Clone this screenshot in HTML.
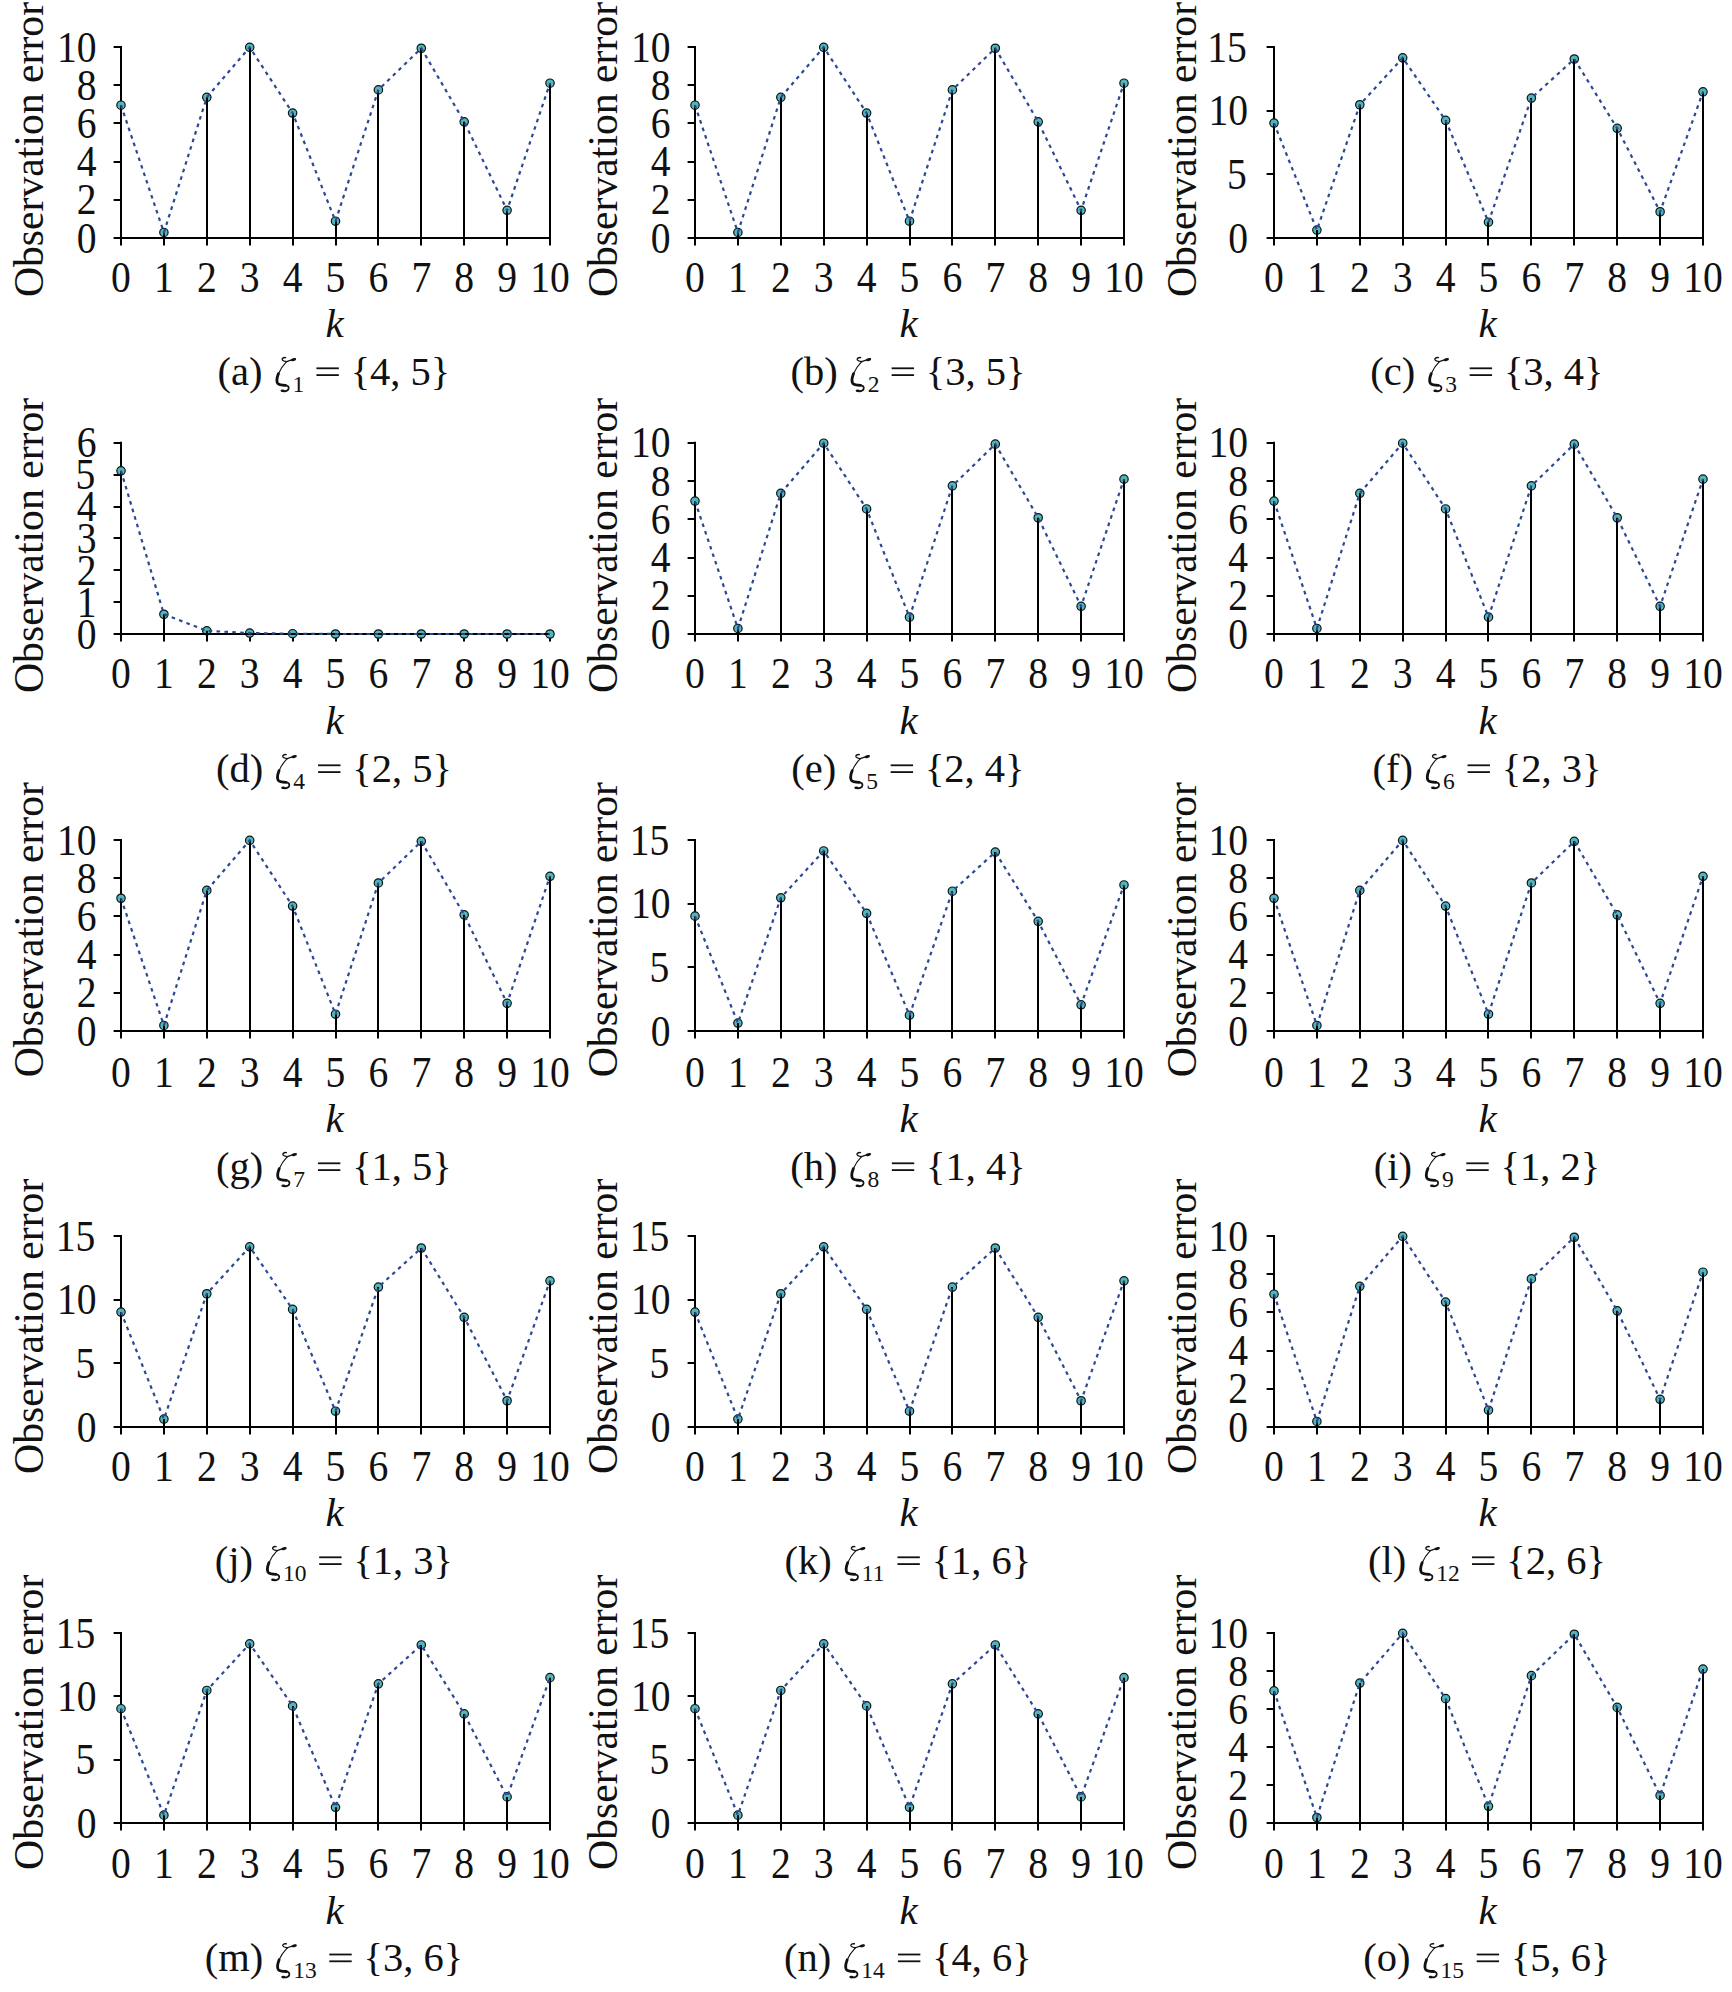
<!DOCTYPE html>
<html><head><meta charset="utf-8"><title>Observation error</title>
<style>
html,body{margin:0;padding:0;background:#fff;}
body{width:1732px;height:1992px;overflow:hidden;}
svg{display:block;}
text{font-family:"Liberation Serif",serif;fill:#111;}
.t{font-size:44.0px;}
.yl{font-size:41.7px;}
.k{font-size:41.0px;font-style:italic;}
.c{font-size:40.5px;}
.z{font-size:38.5px;font-style:italic;}
.s{font-size:23.5px;}
rect{fill:#111;}
</style></head><body>
<svg width="1732" height="1992" viewBox="0 0 1732 1992">
<defs><g id="zeta" fill="none" stroke="#111" stroke-linecap="round">
<path d="M11.3 -23.4C8 -20 4.6 -15 2.9 -10.8" stroke-width="1.15"/>
<path d="M3.2 -11.4C1.7 -7.5 1.0 -3.8 2.3 -1.7C3.6 0.1 6.6 0.3 10.2 0.3" stroke-width="2.8"/>
<path d="M10.2 0.3C12.8 0.4 13.7 2.0 13.3 3.7C12.7 5.6 10.2 6.5 7.3 6.1" stroke-width="1.8"/>
<ellipse cx="7.3" cy="5.8" rx="2.0" ry="1.3" fill="#111" stroke="none"/>
<path d="M10.3 -27.4C8 -27.8 6.3 -26.5 7.0 -25.2C7.6 -24.2 9.8 -23.6 11.3 -23.4" stroke-width="1.4"/>
<path d="M11.3 -23.4C14 -24.4 17 -25.5 20 -26.1" stroke-width="1.2"/>
<ellipse cx="18.2" cy="-25.4" rx="2.7" ry="1.4" transform="rotate(-14 18.2 -25.4)" fill="#111" stroke="none"/>
</g></defs>
<rect x="0" y="0" width="1732" height="1992" fill="#fff" style="fill:#fff"/>
<g><path d="M113.6 238H551 M121 245.4V45.9M113.6 238H121M113.6 200H121M113.6 162H121M113.6 123H121M113.6 85H121M113.6 47H121M121 238V245.4M164 238V245.4M207 238V245.4M250 238V245.4M293 238V245.4M336 238V245.4M378 238V245.4M421 238V245.4M464 238V245.4M507 238V245.4M550 238V245.4" stroke="#000" stroke-width="2.0" fill="none"/><circle cx="121" cy="105.19" r="4.2" fill="#52b5b8" stroke="#061616" stroke-width="1.2"/><circle cx="163.9" cy="232.46" r="4.2" fill="#52b5b8" stroke="#061616" stroke-width="1.2"/><circle cx="206.8" cy="97.35" r="4.2" fill="#52b5b8" stroke="#061616" stroke-width="1.2"/><circle cx="249.7" cy="47.28" r="4.2" fill="#52b5b8" stroke="#061616" stroke-width="1.2"/><circle cx="292.6" cy="113.02" r="4.2" fill="#52b5b8" stroke="#061616" stroke-width="1.2"/><circle cx="335.5" cy="221.18" r="4.2" fill="#52b5b8" stroke="#061616" stroke-width="1.2"/><circle cx="378.4" cy="89.9" r="4.2" fill="#52b5b8" stroke="#061616" stroke-width="1.2"/><circle cx="421.3" cy="48.24" r="4.2" fill="#52b5b8" stroke="#061616" stroke-width="1.2"/><circle cx="464.2" cy="121.81" r="4.2" fill="#52b5b8" stroke="#061616" stroke-width="1.2"/><circle cx="507.1" cy="210.29" r="4.2" fill="#52b5b8" stroke="#061616" stroke-width="1.2"/><circle cx="550" cy="83.21" r="4.2" fill="#52b5b8" stroke="#061616" stroke-width="1.2"/><path d="M121 238V105.19M164 238V232.46M207 238V97.35M250 238V47.28M293 238V113.02M336 238V221.18M378 238V89.9M421 238V48.24M464 238V121.81M507 238V210.29M550 238V83.21M121 238H550" stroke="#000" stroke-width="2.0" fill="none"/><polyline points="121,105.19 163.9,232.46 206.8,97.35 249.7,47.28 292.6,113.02 335.5,221.18 378.4,89.9 421.3,48.24 464.2,121.81 507.1,210.29 550,83.21" fill="none" stroke="#2b4894" stroke-width="2.2" stroke-dasharray="3.6 4.3"/><text transform="translate(96.5 252.6) scale(0.9 1)" text-anchor="end" class="t">0</text><text transform="translate(96.5 214.38) scale(0.9 1)" text-anchor="end" class="t">2</text><text transform="translate(96.5 176.16) scale(0.9 1)" text-anchor="end" class="t">4</text><text transform="translate(96.5 137.94) scale(0.9 1)" text-anchor="end" class="t">6</text><text transform="translate(96.5 99.72) scale(0.9 1)" text-anchor="end" class="t">8</text><text transform="translate(96.5 61.5) scale(0.9 1)" text-anchor="end" class="t">10</text><text transform="translate(121 292.1) scale(0.9 1)" text-anchor="middle" class="t">0</text><text transform="translate(163.9 292.1) scale(0.9 1)" text-anchor="middle" class="t">1</text><text transform="translate(206.8 292.1) scale(0.9 1)" text-anchor="middle" class="t">2</text><text transform="translate(249.7 292.1) scale(0.9 1)" text-anchor="middle" class="t">3</text><text transform="translate(292.6 292.1) scale(0.9 1)" text-anchor="middle" class="t">4</text><text transform="translate(335.5 292.1) scale(0.9 1)" text-anchor="middle" class="t">5</text><text transform="translate(378.4 292.1) scale(0.9 1)" text-anchor="middle" class="t">6</text><text transform="translate(421.3 292.1) scale(0.9 1)" text-anchor="middle" class="t">7</text><text transform="translate(464.2 292.1) scale(0.9 1)" text-anchor="middle" class="t">8</text><text transform="translate(507.1 292.1) scale(0.9 1)" text-anchor="middle" class="t">9</text><text transform="translate(550 292.1) scale(0.9 1)" text-anchor="middle" class="t">10</text><text x="334.6" y="337.3" text-anchor="middle" class="k">k</text><text transform="translate(43.4 149.5) rotate(-90)" text-anchor="middle" class="yl">Observation error</text><text x="217.62" y="385" class="c">(a)</text><use href="#zeta" transform="translate(275.29 385)"/><text x="292.59" y="392.1" class="s">1</text><rect x="316.43" y="367.4" width="22.4" height="1.8"/><rect x="316.43" y="374.2" width="22.4" height="1.8"/><text x="350.65" y="385" class="c">{4, 5}</text></g>
<g><path d="M687.6 238H1125 M695 245.4V45.9M687.6 238H695M687.6 200H695M687.6 162H695M687.6 123H695M687.6 85H695M687.6 47H695M695 238V245.4M738 238V245.4M781 238V245.4M824 238V245.4M867 238V245.4M910 238V245.4M952 238V245.4M995 238V245.4M1038 238V245.4M1081 238V245.4M1124 238V245.4" stroke="#000" stroke-width="2.0" fill="none"/><circle cx="695" cy="105.19" r="4.2" fill="#52b5b8" stroke="#061616" stroke-width="1.2"/><circle cx="737.9" cy="232.46" r="4.2" fill="#52b5b8" stroke="#061616" stroke-width="1.2"/><circle cx="780.8" cy="97.35" r="4.2" fill="#52b5b8" stroke="#061616" stroke-width="1.2"/><circle cx="823.7" cy="47.28" r="4.2" fill="#52b5b8" stroke="#061616" stroke-width="1.2"/><circle cx="866.6" cy="113.02" r="4.2" fill="#52b5b8" stroke="#061616" stroke-width="1.2"/><circle cx="909.5" cy="221.18" r="4.2" fill="#52b5b8" stroke="#061616" stroke-width="1.2"/><circle cx="952.4" cy="89.9" r="4.2" fill="#52b5b8" stroke="#061616" stroke-width="1.2"/><circle cx="995.3" cy="48.24" r="4.2" fill="#52b5b8" stroke="#061616" stroke-width="1.2"/><circle cx="1038.2" cy="121.81" r="4.2" fill="#52b5b8" stroke="#061616" stroke-width="1.2"/><circle cx="1081.1" cy="210.29" r="4.2" fill="#52b5b8" stroke="#061616" stroke-width="1.2"/><circle cx="1124" cy="83.21" r="4.2" fill="#52b5b8" stroke="#061616" stroke-width="1.2"/><path d="M695 238V105.19M738 238V232.46M781 238V97.35M824 238V47.28M867 238V113.02M910 238V221.18M952 238V89.9M995 238V48.24M1038 238V121.81M1081 238V210.29M1124 238V83.21M695 238H1124" stroke="#000" stroke-width="2.0" fill="none"/><polyline points="695,105.19 737.9,232.46 780.8,97.35 823.7,47.28 866.6,113.02 909.5,221.18 952.4,89.9 995.3,48.24 1038.2,121.81 1081.1,210.29 1124,83.21" fill="none" stroke="#2b4894" stroke-width="2.2" stroke-dasharray="3.6 4.3"/><text transform="translate(670.5 252.6) scale(0.9 1)" text-anchor="end" class="t">0</text><text transform="translate(670.5 214.38) scale(0.9 1)" text-anchor="end" class="t">2</text><text transform="translate(670.5 176.16) scale(0.9 1)" text-anchor="end" class="t">4</text><text transform="translate(670.5 137.94) scale(0.9 1)" text-anchor="end" class="t">6</text><text transform="translate(670.5 99.72) scale(0.9 1)" text-anchor="end" class="t">8</text><text transform="translate(670.5 61.5) scale(0.9 1)" text-anchor="end" class="t">10</text><text transform="translate(695 292.1) scale(0.9 1)" text-anchor="middle" class="t">0</text><text transform="translate(737.9 292.1) scale(0.9 1)" text-anchor="middle" class="t">1</text><text transform="translate(780.8 292.1) scale(0.9 1)" text-anchor="middle" class="t">2</text><text transform="translate(823.7 292.1) scale(0.9 1)" text-anchor="middle" class="t">3</text><text transform="translate(866.6 292.1) scale(0.9 1)" text-anchor="middle" class="t">4</text><text transform="translate(909.5 292.1) scale(0.9 1)" text-anchor="middle" class="t">5</text><text transform="translate(952.4 292.1) scale(0.9 1)" text-anchor="middle" class="t">6</text><text transform="translate(995.3 292.1) scale(0.9 1)" text-anchor="middle" class="t">7</text><text transform="translate(1038.2 292.1) scale(0.9 1)" text-anchor="middle" class="t">8</text><text transform="translate(1081.1 292.1) scale(0.9 1)" text-anchor="middle" class="t">9</text><text transform="translate(1124 292.1) scale(0.9 1)" text-anchor="middle" class="t">10</text><text x="908.6" y="337.3" text-anchor="middle" class="k">k</text><text transform="translate(617.4 149.5) rotate(-90)" text-anchor="middle" class="yl">Observation error</text><text x="790.43" y="385" class="c">(b)</text><use href="#zeta" transform="translate(850.37 385)"/><text x="867.67" y="392.1" class="s">2</text><rect x="891.62" y="367.4" width="22.4" height="1.8"/><rect x="891.62" y="374.2" width="22.4" height="1.8"/><text x="925.84" y="385" class="c">{3, 5}</text></g>
<g><path d="M1266.6 238H1704 M1274 245.4V45.9M1266.6 238H1274M1266.6 174H1274M1266.6 111H1274M1266.6 47H1274M1274 238V245.4M1317 238V245.4M1360 238V245.4M1403 238V245.4M1446 238V245.4M1488 238V245.4M1531 238V245.4M1574 238V245.4M1617 238V245.4M1660 238V245.4M1703 238V245.4" stroke="#000" stroke-width="2.0" fill="none"/><circle cx="1274" cy="123.09" r="4.2" fill="#52b5b8" stroke="#061616" stroke-width="1.2"/><circle cx="1316.9" cy="230.1" r="4.2" fill="#52b5b8" stroke="#061616" stroke-width="1.2"/><circle cx="1359.8" cy="104.74" r="4.2" fill="#52b5b8" stroke="#061616" stroke-width="1.2"/><circle cx="1402.7" cy="57.86" r="4.2" fill="#52b5b8" stroke="#061616" stroke-width="1.2"/><circle cx="1445.6" cy="120.28" r="4.2" fill="#52b5b8" stroke="#061616" stroke-width="1.2"/><circle cx="1488.5" cy="222.2" r="4.2" fill="#52b5b8" stroke="#061616" stroke-width="1.2"/><circle cx="1531.4" cy="98.11" r="4.2" fill="#52b5b8" stroke="#061616" stroke-width="1.2"/><circle cx="1574.3" cy="59" r="4.2" fill="#52b5b8" stroke="#061616" stroke-width="1.2"/><circle cx="1617.2" cy="128.31" r="4.2" fill="#52b5b8" stroke="#061616" stroke-width="1.2"/><circle cx="1660.1" cy="211.76" r="4.2" fill="#52b5b8" stroke="#061616" stroke-width="1.2"/><circle cx="1703" cy="91.87" r="4.2" fill="#52b5b8" stroke="#061616" stroke-width="1.2"/><path d="M1274 238V123.09M1317 238V230.1M1360 238V104.74M1403 238V57.86M1446 238V120.28M1488 238V222.2M1531 238V98.11M1574 238V59M1617 238V128.31M1660 238V211.76M1703 238V91.87M1274 238H1703" stroke="#000" stroke-width="2.0" fill="none"/><polyline points="1274,123.09 1316.9,230.1 1359.8,104.74 1402.7,57.86 1445.6,120.28 1488.5,222.2 1531.4,98.11 1574.3,59 1617.2,128.31 1660.1,211.76 1703,91.87" fill="none" stroke="#2b4894" stroke-width="2.2" stroke-dasharray="3.6 4.3"/><text transform="translate(1248.1 252.6) scale(0.9 1)" text-anchor="end" class="t">0</text><text transform="translate(1246.9 188.9) scale(0.9 1)" text-anchor="end" class="t">5</text><text transform="translate(1248.1 125.2) scale(0.9 1)" text-anchor="end" class="t">10</text><text transform="translate(1246.9 61.5) scale(0.9 1)" text-anchor="end" class="t">15</text><text transform="translate(1274 292.1) scale(0.9 1)" text-anchor="middle" class="t">0</text><text transform="translate(1316.9 292.1) scale(0.9 1)" text-anchor="middle" class="t">1</text><text transform="translate(1359.8 292.1) scale(0.9 1)" text-anchor="middle" class="t">2</text><text transform="translate(1402.7 292.1) scale(0.9 1)" text-anchor="middle" class="t">3</text><text transform="translate(1445.6 292.1) scale(0.9 1)" text-anchor="middle" class="t">4</text><text transform="translate(1488.5 292.1) scale(0.9 1)" text-anchor="middle" class="t">5</text><text transform="translate(1531.4 292.1) scale(0.9 1)" text-anchor="middle" class="t">6</text><text transform="translate(1574.3 292.1) scale(0.9 1)" text-anchor="middle" class="t">7</text><text transform="translate(1617.2 292.1) scale(0.9 1)" text-anchor="middle" class="t">8</text><text transform="translate(1660.1 292.1) scale(0.9 1)" text-anchor="middle" class="t">9</text><text transform="translate(1703 292.1) scale(0.9 1)" text-anchor="middle" class="t">10</text><text x="1487.6" y="337.3" text-anchor="middle" class="k">k</text><text transform="translate(1196.4 149.5) rotate(-90)" text-anchor="middle" class="yl">Observation error</text><text x="1370.37" y="385" class="c">(c)</text><use href="#zeta" transform="translate(1428.04 385)"/><text x="1445.34" y="392.1" class="s">3</text><rect x="1469.67" y="367.4" width="22.4" height="1.8"/><rect x="1469.67" y="374.2" width="22.4" height="1.8"/><text x="1503.9" y="385" class="c">{3, 4}</text></g>
<g><path d="M113.6 634H551 M121 641.4V441.8M113.6 634H121M113.6 602H121M113.6 570H121M113.6 538H121M113.6 507H121M113.6 475H121M113.6 443H121M121 634V641.4M164 634V641.4M207 634V641.4M250 634V641.4M293 634V641.4M336 634V641.4M378 634V641.4M421 634V641.4M464 634V641.4M507 634V641.4M550 634V641.4" stroke="#000" stroke-width="2.0" fill="none"/><circle cx="121" cy="470.84" r="4.2" fill="#52b5b8" stroke="#061616" stroke-width="1.2"/><circle cx="163.9" cy="614.24" r="4.2" fill="#52b5b8" stroke="#061616" stroke-width="1.2"/><circle cx="206.8" cy="630.81" r="4.2" fill="#52b5b8" stroke="#061616" stroke-width="1.2"/><circle cx="249.7" cy="633.04" r="4.2" fill="#52b5b8" stroke="#061616" stroke-width="1.2"/><circle cx="292.6" cy="633.68" r="4.2" fill="#52b5b8" stroke="#061616" stroke-width="1.2"/><circle cx="335.5" cy="634" r="4.2" fill="#52b5b8" stroke="#061616" stroke-width="1.2"/><circle cx="378.4" cy="634" r="4.2" fill="#52b5b8" stroke="#061616" stroke-width="1.2"/><circle cx="421.3" cy="634" r="4.2" fill="#52b5b8" stroke="#061616" stroke-width="1.2"/><circle cx="464.2" cy="634" r="4.2" fill="#52b5b8" stroke="#061616" stroke-width="1.2"/><circle cx="507.1" cy="634" r="4.2" fill="#52b5b8" stroke="#061616" stroke-width="1.2"/><circle cx="550" cy="634" r="4.2" fill="#52b5b8" stroke="#061616" stroke-width="1.2"/><path d="M121 634V470.84M164 634V614.24M207 634V630.81M250 634V633.04M293 634V633.68M336 634V634M378 634V634M421 634V634M464 634V634M507 634V634M550 634V634M121 634H550" stroke="#000" stroke-width="2.0" fill="none"/><polyline points="121,470.84 163.9,614.24 206.8,630.81 249.7,633.04 292.6,633.68 335.5,634 378.4,634 421.3,634 464.2,634 507.1,634 550,634" fill="none" stroke="#2b4894" stroke-width="2.2" stroke-dasharray="3.6 4.3"/><text transform="translate(96.5 648.6) scale(0.9 1)" text-anchor="end" class="t">0</text><text transform="translate(96.5 616.73) scale(0.9 1)" text-anchor="end" class="t">1</text><text transform="translate(96.5 584.87) scale(0.9 1)" text-anchor="end" class="t">2</text><text transform="translate(96.5 553) scale(0.9 1)" text-anchor="end" class="t">3</text><text transform="translate(96.5 521.13) scale(0.9 1)" text-anchor="end" class="t">4</text><text transform="translate(95.3 489.27) scale(0.9 1)" text-anchor="end" class="t">5</text><text transform="translate(96.5 457.4) scale(0.9 1)" text-anchor="end" class="t">6</text><text transform="translate(121 688.3) scale(0.9 1)" text-anchor="middle" class="t">0</text><text transform="translate(163.9 688.3) scale(0.9 1)" text-anchor="middle" class="t">1</text><text transform="translate(206.8 688.3) scale(0.9 1)" text-anchor="middle" class="t">2</text><text transform="translate(249.7 688.3) scale(0.9 1)" text-anchor="middle" class="t">3</text><text transform="translate(292.6 688.3) scale(0.9 1)" text-anchor="middle" class="t">4</text><text transform="translate(335.5 688.3) scale(0.9 1)" text-anchor="middle" class="t">5</text><text transform="translate(378.4 688.3) scale(0.9 1)" text-anchor="middle" class="t">6</text><text transform="translate(421.3 688.3) scale(0.9 1)" text-anchor="middle" class="t">7</text><text transform="translate(464.2 688.3) scale(0.9 1)" text-anchor="middle" class="t">8</text><text transform="translate(507.1 688.3) scale(0.9 1)" text-anchor="middle" class="t">9</text><text transform="translate(550 688.3) scale(0.9 1)" text-anchor="middle" class="t">10</text><text x="334.6" y="734.3" text-anchor="middle" class="k">k</text><text transform="translate(43.4 545.45) rotate(-90)" text-anchor="middle" class="yl">Observation error</text><text x="215.96" y="782" class="c">(d)</text><use href="#zeta" transform="translate(275.9 782)"/><text x="293.2" y="789.1" class="s">4</text><rect x="318.09" y="764.4" width="22.4" height="1.8"/><rect x="318.09" y="771.2" width="22.4" height="1.8"/><text x="352.31" y="782" class="c">{2, 5}</text></g>
<g><path d="M687.6 634H1125 M695 641.4V441.8M687.6 634H695M687.6 596H695M687.6 558H695M687.6 519H695M687.6 481H695M687.6 443H695M695 634V641.4M738 634V641.4M781 634V641.4M824 634V641.4M867 634V641.4M910 634V641.4M952 634V641.4M995 634V641.4M1038 634V641.4M1081 634V641.4M1124 634V641.4" stroke="#000" stroke-width="2.0" fill="none"/><circle cx="695" cy="501.12" r="4.2" fill="#52b5b8" stroke="#061616" stroke-width="1.2"/><circle cx="737.9" cy="628.46" r="4.2" fill="#52b5b8" stroke="#061616" stroke-width="1.2"/><circle cx="780.8" cy="493.28" r="4.2" fill="#52b5b8" stroke="#061616" stroke-width="1.2"/><circle cx="823.7" cy="443.18" r="4.2" fill="#52b5b8" stroke="#061616" stroke-width="1.2"/><circle cx="866.6" cy="508.96" r="4.2" fill="#52b5b8" stroke="#061616" stroke-width="1.2"/><circle cx="909.5" cy="617.17" r="4.2" fill="#52b5b8" stroke="#061616" stroke-width="1.2"/><circle cx="952.4" cy="485.82" r="4.2" fill="#52b5b8" stroke="#061616" stroke-width="1.2"/><circle cx="995.3" cy="444.14" r="4.2" fill="#52b5b8" stroke="#061616" stroke-width="1.2"/><circle cx="1038.2" cy="517.75" r="4.2" fill="#52b5b8" stroke="#061616" stroke-width="1.2"/><circle cx="1081.1" cy="606.28" r="4.2" fill="#52b5b8" stroke="#061616" stroke-width="1.2"/><circle cx="1124" cy="479.13" r="4.2" fill="#52b5b8" stroke="#061616" stroke-width="1.2"/><path d="M695 634V501.12M738 634V628.46M781 634V493.28M824 634V443.18M867 634V508.96M910 634V617.17M952 634V485.82M995 634V444.14M1038 634V517.75M1081 634V606.28M1124 634V479.13M695 634H1124" stroke="#000" stroke-width="2.0" fill="none"/><polyline points="695,501.12 737.9,628.46 780.8,493.28 823.7,443.18 866.6,508.96 909.5,617.17 952.4,485.82 995.3,444.14 1038.2,517.75 1081.1,606.28 1124,479.13" fill="none" stroke="#2b4894" stroke-width="2.2" stroke-dasharray="3.6 4.3"/><text transform="translate(670.5 648.6) scale(0.9 1)" text-anchor="end" class="t">0</text><text transform="translate(670.5 610.36) scale(0.9 1)" text-anchor="end" class="t">2</text><text transform="translate(670.5 572.12) scale(0.9 1)" text-anchor="end" class="t">4</text><text transform="translate(670.5 533.88) scale(0.9 1)" text-anchor="end" class="t">6</text><text transform="translate(670.5 495.64) scale(0.9 1)" text-anchor="end" class="t">8</text><text transform="translate(670.5 457.4) scale(0.9 1)" text-anchor="end" class="t">10</text><text transform="translate(695 688.3) scale(0.9 1)" text-anchor="middle" class="t">0</text><text transform="translate(737.9 688.3) scale(0.9 1)" text-anchor="middle" class="t">1</text><text transform="translate(780.8 688.3) scale(0.9 1)" text-anchor="middle" class="t">2</text><text transform="translate(823.7 688.3) scale(0.9 1)" text-anchor="middle" class="t">3</text><text transform="translate(866.6 688.3) scale(0.9 1)" text-anchor="middle" class="t">4</text><text transform="translate(909.5 688.3) scale(0.9 1)" text-anchor="middle" class="t">5</text><text transform="translate(952.4 688.3) scale(0.9 1)" text-anchor="middle" class="t">6</text><text transform="translate(995.3 688.3) scale(0.9 1)" text-anchor="middle" class="t">7</text><text transform="translate(1038.2 688.3) scale(0.9 1)" text-anchor="middle" class="t">8</text><text transform="translate(1081.1 688.3) scale(0.9 1)" text-anchor="middle" class="t">9</text><text transform="translate(1124 688.3) scale(0.9 1)" text-anchor="middle" class="t">10</text><text x="908.6" y="734.3" text-anchor="middle" class="k">k</text><text transform="translate(617.4 545.45) rotate(-90)" text-anchor="middle" class="yl">Observation error</text><text x="791.37" y="782" class="c">(e)</text><use href="#zeta" transform="translate(849.04 782)"/><text x="866.34" y="789.1" class="s">5</text><rect x="890.67" y="764.4" width="22.4" height="1.8"/><rect x="890.67" y="771.2" width="22.4" height="1.8"/><text x="924.9" y="782" class="c">{2, 4}</text></g>
<g><path d="M1266.6 634H1704 M1274 641.4V441.8M1266.6 634H1274M1266.6 596H1274M1266.6 558H1274M1266.6 519H1274M1266.6 481H1274M1266.6 443H1274M1274 634V641.4M1317 634V641.4M1360 634V641.4M1403 634V641.4M1446 634V641.4M1488 634V641.4M1531 634V641.4M1574 634V641.4M1617 634V641.4M1660 634V641.4M1703 634V641.4" stroke="#000" stroke-width="2.0" fill="none"/><circle cx="1274" cy="501.12" r="4.2" fill="#52b5b8" stroke="#061616" stroke-width="1.2"/><circle cx="1316.9" cy="628.46" r="4.2" fill="#52b5b8" stroke="#061616" stroke-width="1.2"/><circle cx="1359.8" cy="493.28" r="4.2" fill="#52b5b8" stroke="#061616" stroke-width="1.2"/><circle cx="1402.7" cy="443.18" r="4.2" fill="#52b5b8" stroke="#061616" stroke-width="1.2"/><circle cx="1445.6" cy="508.96" r="4.2" fill="#52b5b8" stroke="#061616" stroke-width="1.2"/><circle cx="1488.5" cy="617.17" r="4.2" fill="#52b5b8" stroke="#061616" stroke-width="1.2"/><circle cx="1531.4" cy="485.82" r="4.2" fill="#52b5b8" stroke="#061616" stroke-width="1.2"/><circle cx="1574.3" cy="444.14" r="4.2" fill="#52b5b8" stroke="#061616" stroke-width="1.2"/><circle cx="1617.2" cy="517.75" r="4.2" fill="#52b5b8" stroke="#061616" stroke-width="1.2"/><circle cx="1660.1" cy="606.28" r="4.2" fill="#52b5b8" stroke="#061616" stroke-width="1.2"/><circle cx="1703" cy="479.13" r="4.2" fill="#52b5b8" stroke="#061616" stroke-width="1.2"/><path d="M1274 634V501.12M1317 634V628.46M1360 634V493.28M1403 634V443.18M1446 634V508.96M1488 634V617.17M1531 634V485.82M1574 634V444.14M1617 634V517.75M1660 634V606.28M1703 634V479.13M1274 634H1703" stroke="#000" stroke-width="2.0" fill="none"/><polyline points="1274,501.12 1316.9,628.46 1359.8,493.28 1402.7,443.18 1445.6,508.96 1488.5,617.17 1531.4,485.82 1574.3,444.14 1617.2,517.75 1660.1,606.28 1703,479.13" fill="none" stroke="#2b4894" stroke-width="2.2" stroke-dasharray="3.6 4.3"/><text transform="translate(1248.1 648.6) scale(0.9 1)" text-anchor="end" class="t">0</text><text transform="translate(1248.1 610.36) scale(0.9 1)" text-anchor="end" class="t">2</text><text transform="translate(1248.1 572.12) scale(0.9 1)" text-anchor="end" class="t">4</text><text transform="translate(1248.1 533.88) scale(0.9 1)" text-anchor="end" class="t">6</text><text transform="translate(1248.1 495.64) scale(0.9 1)" text-anchor="end" class="t">8</text><text transform="translate(1248.1 457.4) scale(0.9 1)" text-anchor="end" class="t">10</text><text transform="translate(1274 688.3) scale(0.9 1)" text-anchor="middle" class="t">0</text><text transform="translate(1316.9 688.3) scale(0.9 1)" text-anchor="middle" class="t">1</text><text transform="translate(1359.8 688.3) scale(0.9 1)" text-anchor="middle" class="t">2</text><text transform="translate(1402.7 688.3) scale(0.9 1)" text-anchor="middle" class="t">3</text><text transform="translate(1445.6 688.3) scale(0.9 1)" text-anchor="middle" class="t">4</text><text transform="translate(1488.5 688.3) scale(0.9 1)" text-anchor="middle" class="t">5</text><text transform="translate(1531.4 688.3) scale(0.9 1)" text-anchor="middle" class="t">6</text><text transform="translate(1574.3 688.3) scale(0.9 1)" text-anchor="middle" class="t">7</text><text transform="translate(1617.2 688.3) scale(0.9 1)" text-anchor="middle" class="t">8</text><text transform="translate(1660.1 688.3) scale(0.9 1)" text-anchor="middle" class="t">9</text><text transform="translate(1703 688.3) scale(0.9 1)" text-anchor="middle" class="t">10</text><text x="1487.6" y="734.3" text-anchor="middle" class="k">k</text><text transform="translate(1196.4 545.45) rotate(-90)" text-anchor="middle" class="yl">Observation error</text><text x="1372.51" y="782" class="c">(f)</text><use href="#zeta" transform="translate(1425.69 782)"/><text x="1442.99" y="789.1" class="s">6</text><rect x="1467.54" y="764.4" width="22.4" height="1.8"/><rect x="1467.54" y="771.2" width="22.4" height="1.8"/><text x="1501.76" y="782" class="c">{2, 3}</text></g>
<g><path d="M113.6 1031H551 M121 1038.4V839M113.6 1031H121M113.6 993H121M113.6 955H121M113.6 916H121M113.6 878H121M113.6 840H121M121 1031V1038.4M164 1031V1038.4M207 1031V1038.4M250 1031V1038.4M293 1031V1038.4M336 1031V1038.4M378 1031V1038.4M421 1031V1038.4M464 1031V1038.4M507 1031V1038.4M550 1031V1038.4" stroke="#000" stroke-width="2.0" fill="none"/><circle cx="121" cy="898.25" r="4.2" fill="#52b5b8" stroke="#061616" stroke-width="1.2"/><circle cx="163.9" cy="1025.46" r="4.2" fill="#52b5b8" stroke="#061616" stroke-width="1.2"/><circle cx="206.8" cy="890.42" r="4.2" fill="#52b5b8" stroke="#061616" stroke-width="1.2"/><circle cx="249.7" cy="840.38" r="4.2" fill="#52b5b8" stroke="#061616" stroke-width="1.2"/><circle cx="292.6" cy="906.09" r="4.2" fill="#52b5b8" stroke="#061616" stroke-width="1.2"/><circle cx="335.5" cy="1014.19" r="4.2" fill="#52b5b8" stroke="#061616" stroke-width="1.2"/><circle cx="378.4" cy="882.98" r="4.2" fill="#52b5b8" stroke="#061616" stroke-width="1.2"/><circle cx="421.3" cy="841.34" r="4.2" fill="#52b5b8" stroke="#061616" stroke-width="1.2"/><circle cx="464.2" cy="914.87" r="4.2" fill="#52b5b8" stroke="#061616" stroke-width="1.2"/><circle cx="507.1" cy="1003.3" r="4.2" fill="#52b5b8" stroke="#061616" stroke-width="1.2"/><circle cx="550" cy="876.29" r="4.2" fill="#52b5b8" stroke="#061616" stroke-width="1.2"/><path d="M121 1031V898.25M164 1031V1025.46M207 1031V890.42M250 1031V840.38M293 1031V906.09M336 1031V1014.19M378 1031V882.98M421 1031V841.34M464 1031V914.87M507 1031V1003.3M550 1031V876.29M121 1031H550" stroke="#000" stroke-width="2.0" fill="none"/><polyline points="121,898.25 163.9,1025.46 206.8,890.42 249.7,840.38 292.6,906.09 335.5,1014.19 378.4,882.98 421.3,841.34 464.2,914.87 507.1,1003.3 550,876.29" fill="none" stroke="#2b4894" stroke-width="2.2" stroke-dasharray="3.6 4.3"/><text transform="translate(96.5 1045.6) scale(0.9 1)" text-anchor="end" class="t">0</text><text transform="translate(96.5 1007.4) scale(0.9 1)" text-anchor="end" class="t">2</text><text transform="translate(96.5 969.2) scale(0.9 1)" text-anchor="end" class="t">4</text><text transform="translate(96.5 931) scale(0.9 1)" text-anchor="end" class="t">6</text><text transform="translate(96.5 892.8) scale(0.9 1)" text-anchor="end" class="t">8</text><text transform="translate(96.5 854.6) scale(0.9 1)" text-anchor="end" class="t">10</text><text transform="translate(121 1086.5) scale(0.9 1)" text-anchor="middle" class="t">0</text><text transform="translate(163.9 1086.5) scale(0.9 1)" text-anchor="middle" class="t">1</text><text transform="translate(206.8 1086.5) scale(0.9 1)" text-anchor="middle" class="t">2</text><text transform="translate(249.7 1086.5) scale(0.9 1)" text-anchor="middle" class="t">3</text><text transform="translate(292.6 1086.5) scale(0.9 1)" text-anchor="middle" class="t">4</text><text transform="translate(335.5 1086.5) scale(0.9 1)" text-anchor="middle" class="t">5</text><text transform="translate(378.4 1086.5) scale(0.9 1)" text-anchor="middle" class="t">6</text><text transform="translate(421.3 1086.5) scale(0.9 1)" text-anchor="middle" class="t">7</text><text transform="translate(464.2 1086.5) scale(0.9 1)" text-anchor="middle" class="t">8</text><text transform="translate(507.1 1086.5) scale(0.9 1)" text-anchor="middle" class="t">9</text><text transform="translate(550 1086.5) scale(0.9 1)" text-anchor="middle" class="t">10</text><text x="334.6" y="1132.3" text-anchor="middle" class="k">k</text><text transform="translate(43.4 929.7) rotate(-90)" text-anchor="middle" class="yl">Observation error</text><text x="216.12" y="1180" class="c">(g)</text><use href="#zeta" transform="translate(276.06 1180)"/><text x="293.36" y="1187.1" class="s">7</text><rect x="317.93" y="1162.4" width="22.4" height="1.8"/><rect x="317.93" y="1169.2" width="22.4" height="1.8"/><text x="352.15" y="1180" class="c">{1, 5}</text></g>
<g><path d="M687.6 1031H1125 M695 1038.4V839M687.6 1031H695M687.6 967H695M687.6 904H695M687.6 840H695M695 1031V1038.4M738 1031V1038.4M781 1031V1038.4M824 1031V1038.4M867 1031V1038.4M910 1031V1038.4M952 1031V1038.4M995 1031V1038.4M1038 1031V1038.4M1081 1031V1038.4M1124 1031V1038.4" stroke="#000" stroke-width="2.0" fill="none"/><circle cx="695" cy="916.15" r="4.2" fill="#52b5b8" stroke="#061616" stroke-width="1.2"/><circle cx="737.9" cy="1023.11" r="4.2" fill="#52b5b8" stroke="#061616" stroke-width="1.2"/><circle cx="780.8" cy="897.81" r="4.2" fill="#52b5b8" stroke="#061616" stroke-width="1.2"/><circle cx="823.7" cy="850.95" r="4.2" fill="#52b5b8" stroke="#061616" stroke-width="1.2"/><circle cx="866.6" cy="913.34" r="4.2" fill="#52b5b8" stroke="#061616" stroke-width="1.2"/><circle cx="909.5" cy="1015.21" r="4.2" fill="#52b5b8" stroke="#061616" stroke-width="1.2"/><circle cx="952.4" cy="891.19" r="4.2" fill="#52b5b8" stroke="#061616" stroke-width="1.2"/><circle cx="995.3" cy="852.1" r="4.2" fill="#52b5b8" stroke="#061616" stroke-width="1.2"/><circle cx="1038.2" cy="921.37" r="4.2" fill="#52b5b8" stroke="#061616" stroke-width="1.2"/><circle cx="1081.1" cy="1004.77" r="4.2" fill="#52b5b8" stroke="#061616" stroke-width="1.2"/><circle cx="1124" cy="884.95" r="4.2" fill="#52b5b8" stroke="#061616" stroke-width="1.2"/><path d="M695 1031V916.15M738 1031V1023.11M781 1031V897.81M824 1031V850.95M867 1031V913.34M910 1031V1015.21M952 1031V891.19M995 1031V852.1M1038 1031V921.37M1081 1031V1004.77M1124 1031V884.95M695 1031H1124" stroke="#000" stroke-width="2.0" fill="none"/><polyline points="695,916.15 737.9,1023.11 780.8,897.81 823.7,850.95 866.6,913.34 909.5,1015.21 952.4,891.19 995.3,852.1 1038.2,921.37 1081.1,1004.77 1124,884.95" fill="none" stroke="#2b4894" stroke-width="2.2" stroke-dasharray="3.6 4.3"/><text transform="translate(670.5 1045.6) scale(0.9 1)" text-anchor="end" class="t">0</text><text transform="translate(669.3 981.93) scale(0.9 1)" text-anchor="end" class="t">5</text><text transform="translate(670.5 918.27) scale(0.9 1)" text-anchor="end" class="t">10</text><text transform="translate(669.3 854.6) scale(0.9 1)" text-anchor="end" class="t">15</text><text transform="translate(695 1086.5) scale(0.9 1)" text-anchor="middle" class="t">0</text><text transform="translate(737.9 1086.5) scale(0.9 1)" text-anchor="middle" class="t">1</text><text transform="translate(780.8 1086.5) scale(0.9 1)" text-anchor="middle" class="t">2</text><text transform="translate(823.7 1086.5) scale(0.9 1)" text-anchor="middle" class="t">3</text><text transform="translate(866.6 1086.5) scale(0.9 1)" text-anchor="middle" class="t">4</text><text transform="translate(909.5 1086.5) scale(0.9 1)" text-anchor="middle" class="t">5</text><text transform="translate(952.4 1086.5) scale(0.9 1)" text-anchor="middle" class="t">6</text><text transform="translate(995.3 1086.5) scale(0.9 1)" text-anchor="middle" class="t">7</text><text transform="translate(1038.2 1086.5) scale(0.9 1)" text-anchor="middle" class="t">8</text><text transform="translate(1081.1 1086.5) scale(0.9 1)" text-anchor="middle" class="t">9</text><text transform="translate(1124 1086.5) scale(0.9 1)" text-anchor="middle" class="t">10</text><text x="908.6" y="1132.3" text-anchor="middle" class="k">k</text><text transform="translate(617.4 929.7) rotate(-90)" text-anchor="middle" class="yl">Observation error</text><text x="790.22" y="1180" class="c">(h)</text><use href="#zeta" transform="translate(850.17 1180)"/><text x="867.47" y="1187.1" class="s">8</text><rect x="891.82" y="1162.4" width="22.4" height="1.8"/><rect x="891.82" y="1169.2" width="22.4" height="1.8"/><text x="926.05" y="1180" class="c">{1, 4}</text></g>
<g><path d="M1266.6 1031H1704 M1274 1038.4V839M1266.6 1031H1274M1266.6 993H1274M1266.6 955H1274M1266.6 916H1274M1266.6 878H1274M1266.6 840H1274M1274 1031V1038.4M1317 1031V1038.4M1360 1031V1038.4M1403 1031V1038.4M1446 1031V1038.4M1488 1031V1038.4M1531 1031V1038.4M1574 1031V1038.4M1617 1031V1038.4M1660 1031V1038.4M1703 1031V1038.4" stroke="#000" stroke-width="2.0" fill="none"/><circle cx="1274" cy="898.25" r="4.2" fill="#52b5b8" stroke="#061616" stroke-width="1.2"/><circle cx="1316.9" cy="1025.46" r="4.2" fill="#52b5b8" stroke="#061616" stroke-width="1.2"/><circle cx="1359.8" cy="890.42" r="4.2" fill="#52b5b8" stroke="#061616" stroke-width="1.2"/><circle cx="1402.7" cy="840.38" r="4.2" fill="#52b5b8" stroke="#061616" stroke-width="1.2"/><circle cx="1445.6" cy="906.09" r="4.2" fill="#52b5b8" stroke="#061616" stroke-width="1.2"/><circle cx="1488.5" cy="1014.19" r="4.2" fill="#52b5b8" stroke="#061616" stroke-width="1.2"/><circle cx="1531.4" cy="882.98" r="4.2" fill="#52b5b8" stroke="#061616" stroke-width="1.2"/><circle cx="1574.3" cy="841.34" r="4.2" fill="#52b5b8" stroke="#061616" stroke-width="1.2"/><circle cx="1617.2" cy="914.87" r="4.2" fill="#52b5b8" stroke="#061616" stroke-width="1.2"/><circle cx="1660.1" cy="1003.3" r="4.2" fill="#52b5b8" stroke="#061616" stroke-width="1.2"/><circle cx="1703" cy="876.29" r="4.2" fill="#52b5b8" stroke="#061616" stroke-width="1.2"/><path d="M1274 1031V898.25M1317 1031V1025.46M1360 1031V890.42M1403 1031V840.38M1446 1031V906.09M1488 1031V1014.19M1531 1031V882.98M1574 1031V841.34M1617 1031V914.87M1660 1031V1003.3M1703 1031V876.29M1274 1031H1703" stroke="#000" stroke-width="2.0" fill="none"/><polyline points="1274,898.25 1316.9,1025.46 1359.8,890.42 1402.7,840.38 1445.6,906.09 1488.5,1014.19 1531.4,882.98 1574.3,841.34 1617.2,914.87 1660.1,1003.3 1703,876.29" fill="none" stroke="#2b4894" stroke-width="2.2" stroke-dasharray="3.6 4.3"/><text transform="translate(1248.1 1045.6) scale(0.9 1)" text-anchor="end" class="t">0</text><text transform="translate(1248.1 1007.4) scale(0.9 1)" text-anchor="end" class="t">2</text><text transform="translate(1248.1 969.2) scale(0.9 1)" text-anchor="end" class="t">4</text><text transform="translate(1248.1 931) scale(0.9 1)" text-anchor="end" class="t">6</text><text transform="translate(1248.1 892.8) scale(0.9 1)" text-anchor="end" class="t">8</text><text transform="translate(1248.1 854.6) scale(0.9 1)" text-anchor="end" class="t">10</text><text transform="translate(1274 1086.5) scale(0.9 1)" text-anchor="middle" class="t">0</text><text transform="translate(1316.9 1086.5) scale(0.9 1)" text-anchor="middle" class="t">1</text><text transform="translate(1359.8 1086.5) scale(0.9 1)" text-anchor="middle" class="t">2</text><text transform="translate(1402.7 1086.5) scale(0.9 1)" text-anchor="middle" class="t">3</text><text transform="translate(1445.6 1086.5) scale(0.9 1)" text-anchor="middle" class="t">4</text><text transform="translate(1488.5 1086.5) scale(0.9 1)" text-anchor="middle" class="t">5</text><text transform="translate(1531.4 1086.5) scale(0.9 1)" text-anchor="middle" class="t">6</text><text transform="translate(1574.3 1086.5) scale(0.9 1)" text-anchor="middle" class="t">7</text><text transform="translate(1617.2 1086.5) scale(0.9 1)" text-anchor="middle" class="t">8</text><text transform="translate(1660.1 1086.5) scale(0.9 1)" text-anchor="middle" class="t">9</text><text transform="translate(1703 1086.5) scale(0.9 1)" text-anchor="middle" class="t">10</text><text x="1487.6" y="1132.3" text-anchor="middle" class="k">k</text><text transform="translate(1196.4 929.7) rotate(-90)" text-anchor="middle" class="yl">Observation error</text><text x="1373.76" y="1180" class="c">(i)</text><use href="#zeta" transform="translate(1424.7 1180)"/><text x="1442" y="1187.1" class="s">9</text><rect x="1466.29" y="1162.4" width="22.4" height="1.8"/><rect x="1466.29" y="1169.2" width="22.4" height="1.8"/><text x="1500.51" y="1180" class="c">{1, 2}</text></g>
<g><path d="M113.6 1427H551 M121 1434.4V1234.9M113.6 1427H121M113.6 1363H121M113.6 1300H121M113.6 1236H121M121 1427V1434.4M164 1427V1434.4M207 1427V1434.4M250 1427V1434.4M293 1427V1434.4M336 1427V1434.4M378 1427V1434.4M421 1427V1434.4M464 1427V1434.4M507 1427V1434.4M550 1427V1434.4" stroke="#000" stroke-width="2.0" fill="none"/><circle cx="121" cy="1312.09" r="4.2" fill="#52b5b8" stroke="#061616" stroke-width="1.2"/><circle cx="163.9" cy="1419.1" r="4.2" fill="#52b5b8" stroke="#061616" stroke-width="1.2"/><circle cx="206.8" cy="1293.74" r="4.2" fill="#52b5b8" stroke="#061616" stroke-width="1.2"/><circle cx="249.7" cy="1246.86" r="4.2" fill="#52b5b8" stroke="#061616" stroke-width="1.2"/><circle cx="292.6" cy="1309.28" r="4.2" fill="#52b5b8" stroke="#061616" stroke-width="1.2"/><circle cx="335.5" cy="1411.2" r="4.2" fill="#52b5b8" stroke="#061616" stroke-width="1.2"/><circle cx="378.4" cy="1287.11" r="4.2" fill="#52b5b8" stroke="#061616" stroke-width="1.2"/><circle cx="421.3" cy="1248" r="4.2" fill="#52b5b8" stroke="#061616" stroke-width="1.2"/><circle cx="464.2" cy="1317.31" r="4.2" fill="#52b5b8" stroke="#061616" stroke-width="1.2"/><circle cx="507.1" cy="1400.76" r="4.2" fill="#52b5b8" stroke="#061616" stroke-width="1.2"/><circle cx="550" cy="1280.87" r="4.2" fill="#52b5b8" stroke="#061616" stroke-width="1.2"/><path d="M121 1427V1312.09M164 1427V1419.1M207 1427V1293.74M250 1427V1246.86M293 1427V1309.28M336 1427V1411.2M378 1427V1287.11M421 1427V1248M464 1427V1317.31M507 1427V1400.76M550 1427V1280.87M121 1427H550" stroke="#000" stroke-width="2.0" fill="none"/><polyline points="121,1312.09 163.9,1419.1 206.8,1293.74 249.7,1246.86 292.6,1309.28 335.5,1411.2 378.4,1287.11 421.3,1248 464.2,1317.31 507.1,1400.76 550,1280.87" fill="none" stroke="#2b4894" stroke-width="2.2" stroke-dasharray="3.6 4.3"/><text transform="translate(96.5 1441.6) scale(0.9 1)" text-anchor="end" class="t">0</text><text transform="translate(95.3 1377.9) scale(0.9 1)" text-anchor="end" class="t">5</text><text transform="translate(96.5 1314.2) scale(0.9 1)" text-anchor="end" class="t">10</text><text transform="translate(95.3 1250.5) scale(0.9 1)" text-anchor="end" class="t">15</text><text transform="translate(121 1481.3) scale(0.9 1)" text-anchor="middle" class="t">0</text><text transform="translate(163.9 1481.3) scale(0.9 1)" text-anchor="middle" class="t">1</text><text transform="translate(206.8 1481.3) scale(0.9 1)" text-anchor="middle" class="t">2</text><text transform="translate(249.7 1481.3) scale(0.9 1)" text-anchor="middle" class="t">3</text><text transform="translate(292.6 1481.3) scale(0.9 1)" text-anchor="middle" class="t">4</text><text transform="translate(335.5 1481.3) scale(0.9 1)" text-anchor="middle" class="t">5</text><text transform="translate(378.4 1481.3) scale(0.9 1)" text-anchor="middle" class="t">6</text><text transform="translate(421.3 1481.3) scale(0.9 1)" text-anchor="middle" class="t">7</text><text transform="translate(464.2 1481.3) scale(0.9 1)" text-anchor="middle" class="t">8</text><text transform="translate(507.1 1481.3) scale(0.9 1)" text-anchor="middle" class="t">9</text><text transform="translate(550 1481.3) scale(0.9 1)" text-anchor="middle" class="t">10</text><text x="334.6" y="1526.3" text-anchor="middle" class="k">k</text><text transform="translate(43.4 1326.3) rotate(-90)" text-anchor="middle" class="yl">Observation error</text><text x="214.85" y="1574" class="c">(j)</text><use href="#zeta" transform="translate(265.79 1574)"/><text x="283.09" y="1581.1" class="s">10</text><rect x="319.2" y="1556.4" width="22.4" height="1.8"/><rect x="319.2" y="1563.2" width="22.4" height="1.8"/><text x="353.42" y="1574" class="c">{1, 3}</text></g>
<g><path d="M687.6 1427H1125 M695 1434.4V1234.9M687.6 1427H695M687.6 1363H695M687.6 1300H695M687.6 1236H695M695 1427V1434.4M738 1427V1434.4M781 1427V1434.4M824 1427V1434.4M867 1427V1434.4M910 1427V1434.4M952 1427V1434.4M995 1427V1434.4M1038 1427V1434.4M1081 1427V1434.4M1124 1427V1434.4" stroke="#000" stroke-width="2.0" fill="none"/><circle cx="695" cy="1312.09" r="4.2" fill="#52b5b8" stroke="#061616" stroke-width="1.2"/><circle cx="737.9" cy="1419.1" r="4.2" fill="#52b5b8" stroke="#061616" stroke-width="1.2"/><circle cx="780.8" cy="1293.74" r="4.2" fill="#52b5b8" stroke="#061616" stroke-width="1.2"/><circle cx="823.7" cy="1246.86" r="4.2" fill="#52b5b8" stroke="#061616" stroke-width="1.2"/><circle cx="866.6" cy="1309.28" r="4.2" fill="#52b5b8" stroke="#061616" stroke-width="1.2"/><circle cx="909.5" cy="1411.2" r="4.2" fill="#52b5b8" stroke="#061616" stroke-width="1.2"/><circle cx="952.4" cy="1287.11" r="4.2" fill="#52b5b8" stroke="#061616" stroke-width="1.2"/><circle cx="995.3" cy="1248" r="4.2" fill="#52b5b8" stroke="#061616" stroke-width="1.2"/><circle cx="1038.2" cy="1317.31" r="4.2" fill="#52b5b8" stroke="#061616" stroke-width="1.2"/><circle cx="1081.1" cy="1400.76" r="4.2" fill="#52b5b8" stroke="#061616" stroke-width="1.2"/><circle cx="1124" cy="1280.87" r="4.2" fill="#52b5b8" stroke="#061616" stroke-width="1.2"/><path d="M695 1427V1312.09M738 1427V1419.1M781 1427V1293.74M824 1427V1246.86M867 1427V1309.28M910 1427V1411.2M952 1427V1287.11M995 1427V1248M1038 1427V1317.31M1081 1427V1400.76M1124 1427V1280.87M695 1427H1124" stroke="#000" stroke-width="2.0" fill="none"/><polyline points="695,1312.09 737.9,1419.1 780.8,1293.74 823.7,1246.86 866.6,1309.28 909.5,1411.2 952.4,1287.11 995.3,1248 1038.2,1317.31 1081.1,1400.76 1124,1280.87" fill="none" stroke="#2b4894" stroke-width="2.2" stroke-dasharray="3.6 4.3"/><text transform="translate(670.5 1441.6) scale(0.9 1)" text-anchor="end" class="t">0</text><text transform="translate(669.3 1377.9) scale(0.9 1)" text-anchor="end" class="t">5</text><text transform="translate(670.5 1314.2) scale(0.9 1)" text-anchor="end" class="t">10</text><text transform="translate(669.3 1250.5) scale(0.9 1)" text-anchor="end" class="t">15</text><text transform="translate(695 1481.3) scale(0.9 1)" text-anchor="middle" class="t">0</text><text transform="translate(737.9 1481.3) scale(0.9 1)" text-anchor="middle" class="t">1</text><text transform="translate(780.8 1481.3) scale(0.9 1)" text-anchor="middle" class="t">2</text><text transform="translate(823.7 1481.3) scale(0.9 1)" text-anchor="middle" class="t">3</text><text transform="translate(866.6 1481.3) scale(0.9 1)" text-anchor="middle" class="t">4</text><text transform="translate(909.5 1481.3) scale(0.9 1)" text-anchor="middle" class="t">5</text><text transform="translate(952.4 1481.3) scale(0.9 1)" text-anchor="middle" class="t">6</text><text transform="translate(995.3 1481.3) scale(0.9 1)" text-anchor="middle" class="t">7</text><text transform="translate(1038.2 1481.3) scale(0.9 1)" text-anchor="middle" class="t">8</text><text transform="translate(1081.1 1481.3) scale(0.9 1)" text-anchor="middle" class="t">9</text><text transform="translate(1124 1481.3) scale(0.9 1)" text-anchor="middle" class="t">10</text><text x="908.6" y="1526.3" text-anchor="middle" class="k">k</text><text transform="translate(617.4 1326.3) rotate(-90)" text-anchor="middle" class="yl">Observation error</text><text x="784.61" y="1574" class="c">(k)</text><use href="#zeta" transform="translate(844.55 1574)"/><text x="861.85" y="1581.1" class="s">11</text><rect x="897.44" y="1556.4" width="22.4" height="1.8"/><rect x="897.44" y="1563.2" width="22.4" height="1.8"/><text x="931.66" y="1574" class="c">{1, 6}</text></g>
<g><path d="M1266.6 1427H1704 M1274 1434.4V1234.9M1266.6 1427H1274M1266.6 1389H1274M1266.6 1351H1274M1266.6 1312H1274M1266.6 1274H1274M1266.6 1236H1274M1274 1427V1434.4M1317 1427V1434.4M1360 1427V1434.4M1403 1427V1434.4M1446 1427V1434.4M1488 1427V1434.4M1531 1427V1434.4M1574 1427V1434.4M1617 1427V1434.4M1660 1427V1434.4M1703 1427V1434.4" stroke="#000" stroke-width="2.0" fill="none"/><circle cx="1274" cy="1294.19" r="4.2" fill="#52b5b8" stroke="#061616" stroke-width="1.2"/><circle cx="1316.9" cy="1421.46" r="4.2" fill="#52b5b8" stroke="#061616" stroke-width="1.2"/><circle cx="1359.8" cy="1286.35" r="4.2" fill="#52b5b8" stroke="#061616" stroke-width="1.2"/><circle cx="1402.7" cy="1236.28" r="4.2" fill="#52b5b8" stroke="#061616" stroke-width="1.2"/><circle cx="1445.6" cy="1302.02" r="4.2" fill="#52b5b8" stroke="#061616" stroke-width="1.2"/><circle cx="1488.5" cy="1410.18" r="4.2" fill="#52b5b8" stroke="#061616" stroke-width="1.2"/><circle cx="1531.4" cy="1278.9" r="4.2" fill="#52b5b8" stroke="#061616" stroke-width="1.2"/><circle cx="1574.3" cy="1237.24" r="4.2" fill="#52b5b8" stroke="#061616" stroke-width="1.2"/><circle cx="1617.2" cy="1310.81" r="4.2" fill="#52b5b8" stroke="#061616" stroke-width="1.2"/><circle cx="1660.1" cy="1399.29" r="4.2" fill="#52b5b8" stroke="#061616" stroke-width="1.2"/><circle cx="1703" cy="1272.21" r="4.2" fill="#52b5b8" stroke="#061616" stroke-width="1.2"/><path d="M1274 1427V1294.19M1317 1427V1421.46M1360 1427V1286.35M1403 1427V1236.28M1446 1427V1302.02M1488 1427V1410.18M1531 1427V1278.9M1574 1427V1237.24M1617 1427V1310.81M1660 1427V1399.29M1703 1427V1272.21M1274 1427H1703" stroke="#000" stroke-width="2.0" fill="none"/><polyline points="1274,1294.19 1316.9,1421.46 1359.8,1286.35 1402.7,1236.28 1445.6,1302.02 1488.5,1410.18 1531.4,1278.9 1574.3,1237.24 1617.2,1310.81 1660.1,1399.29 1703,1272.21" fill="none" stroke="#2b4894" stroke-width="2.2" stroke-dasharray="3.6 4.3"/><text transform="translate(1248.1 1441.6) scale(0.9 1)" text-anchor="end" class="t">0</text><text transform="translate(1248.1 1403.38) scale(0.9 1)" text-anchor="end" class="t">2</text><text transform="translate(1248.1 1365.16) scale(0.9 1)" text-anchor="end" class="t">4</text><text transform="translate(1248.1 1326.94) scale(0.9 1)" text-anchor="end" class="t">6</text><text transform="translate(1248.1 1288.72) scale(0.9 1)" text-anchor="end" class="t">8</text><text transform="translate(1248.1 1250.5) scale(0.9 1)" text-anchor="end" class="t">10</text><text transform="translate(1274 1481.3) scale(0.9 1)" text-anchor="middle" class="t">0</text><text transform="translate(1316.9 1481.3) scale(0.9 1)" text-anchor="middle" class="t">1</text><text transform="translate(1359.8 1481.3) scale(0.9 1)" text-anchor="middle" class="t">2</text><text transform="translate(1402.7 1481.3) scale(0.9 1)" text-anchor="middle" class="t">3</text><text transform="translate(1445.6 1481.3) scale(0.9 1)" text-anchor="middle" class="t">4</text><text transform="translate(1488.5 1481.3) scale(0.9 1)" text-anchor="middle" class="t">5</text><text transform="translate(1531.4 1481.3) scale(0.9 1)" text-anchor="middle" class="t">6</text><text transform="translate(1574.3 1481.3) scale(0.9 1)" text-anchor="middle" class="t">7</text><text transform="translate(1617.2 1481.3) scale(0.9 1)" text-anchor="middle" class="t">8</text><text transform="translate(1660.1 1481.3) scale(0.9 1)" text-anchor="middle" class="t">9</text><text transform="translate(1703 1481.3) scale(0.9 1)" text-anchor="middle" class="t">10</text><text x="1487.6" y="1526.3" text-anchor="middle" class="k">k</text><text transform="translate(1196.4 1326.3) rotate(-90)" text-anchor="middle" class="yl">Observation error</text><text x="1368.05" y="1574" class="c">(l)</text><use href="#zeta" transform="translate(1419 1574)"/><text x="1436.3" y="1581.1" class="s">12</text><rect x="1472" y="1556.4" width="22.4" height="1.8"/><rect x="1472" y="1563.2" width="22.4" height="1.8"/><text x="1506.22" y="1574" class="c">{2, 6}</text></g>
<g><path d="M113.6 1823H551 M121 1830.4V1631.9M113.6 1823H121M113.6 1760H121M113.6 1696H121M113.6 1633H121M121 1823V1830.4M164 1823V1830.4M207 1823V1830.4M250 1823V1830.4M293 1823V1830.4M336 1823V1830.4M378 1823V1830.4M421 1823V1830.4M464 1823V1830.4M507 1823V1830.4M550 1823V1830.4" stroke="#000" stroke-width="2.0" fill="none"/><circle cx="121" cy="1708.69" r="4.2" fill="#52b5b8" stroke="#061616" stroke-width="1.2"/><circle cx="163.9" cy="1815.14" r="4.2" fill="#52b5b8" stroke="#061616" stroke-width="1.2"/><circle cx="206.8" cy="1690.44" r="4.2" fill="#52b5b8" stroke="#061616" stroke-width="1.2"/><circle cx="249.7" cy="1643.8" r="4.2" fill="#52b5b8" stroke="#061616" stroke-width="1.2"/><circle cx="292.6" cy="1705.9" r="4.2" fill="#52b5b8" stroke="#061616" stroke-width="1.2"/><circle cx="335.5" cy="1807.29" r="4.2" fill="#52b5b8" stroke="#061616" stroke-width="1.2"/><circle cx="378.4" cy="1683.85" r="4.2" fill="#52b5b8" stroke="#061616" stroke-width="1.2"/><circle cx="421.3" cy="1644.94" r="4.2" fill="#52b5b8" stroke="#061616" stroke-width="1.2"/><circle cx="464.2" cy="1713.88" r="4.2" fill="#52b5b8" stroke="#061616" stroke-width="1.2"/><circle cx="507.1" cy="1796.89" r="4.2" fill="#52b5b8" stroke="#061616" stroke-width="1.2"/><circle cx="550" cy="1677.64" r="4.2" fill="#52b5b8" stroke="#061616" stroke-width="1.2"/><path d="M121 1823V1708.69M164 1823V1815.14M207 1823V1690.44M250 1823V1643.8M293 1823V1705.9M336 1823V1807.29M378 1823V1683.85M421 1823V1644.94M464 1823V1713.88M507 1823V1796.89M550 1823V1677.64M121 1823H550" stroke="#000" stroke-width="2.0" fill="none"/><polyline points="121,1708.69 163.9,1815.14 206.8,1690.44 249.7,1643.8 292.6,1705.9 335.5,1807.29 378.4,1683.85 421.3,1644.94 464.2,1713.88 507.1,1796.89 550,1677.64" fill="none" stroke="#2b4894" stroke-width="2.2" stroke-dasharray="3.6 4.3"/><text transform="translate(96.5 1837.6) scale(0.9 1)" text-anchor="end" class="t">0</text><text transform="translate(95.3 1774.23) scale(0.9 1)" text-anchor="end" class="t">5</text><text transform="translate(96.5 1710.87) scale(0.9 1)" text-anchor="end" class="t">10</text><text transform="translate(95.3 1647.5) scale(0.9 1)" text-anchor="end" class="t">15</text><text transform="translate(121 1878.1) scale(0.9 1)" text-anchor="middle" class="t">0</text><text transform="translate(163.9 1878.1) scale(0.9 1)" text-anchor="middle" class="t">1</text><text transform="translate(206.8 1878.1) scale(0.9 1)" text-anchor="middle" class="t">2</text><text transform="translate(249.7 1878.1) scale(0.9 1)" text-anchor="middle" class="t">3</text><text transform="translate(292.6 1878.1) scale(0.9 1)" text-anchor="middle" class="t">4</text><text transform="translate(335.5 1878.1) scale(0.9 1)" text-anchor="middle" class="t">5</text><text transform="translate(378.4 1878.1) scale(0.9 1)" text-anchor="middle" class="t">6</text><text transform="translate(421.3 1878.1) scale(0.9 1)" text-anchor="middle" class="t">7</text><text transform="translate(464.2 1878.1) scale(0.9 1)" text-anchor="middle" class="t">8</text><text transform="translate(507.1 1878.1) scale(0.9 1)" text-anchor="middle" class="t">9</text><text transform="translate(550 1878.1) scale(0.9 1)" text-anchor="middle" class="t">10</text><text x="334.6" y="1924.1" text-anchor="middle" class="k">k</text><text transform="translate(43.4 1722.3) rotate(-90)" text-anchor="middle" class="yl">Observation error</text><text x="204.74" y="1971.2" class="c">(m)</text><use href="#zeta" transform="translate(275.93 1971.2)"/><text x="293.23" y="1978.3" class="s">13</text><rect x="329.31" y="1953.6" width="22.4" height="1.8"/><rect x="329.31" y="1960.4" width="22.4" height="1.8"/><text x="363.53" y="1971.2" class="c">{3, 6}</text></g>
<g><path d="M687.6 1823H1125 M695 1830.4V1631.9M687.6 1823H695M687.6 1760H695M687.6 1696H695M687.6 1633H695M695 1823V1830.4M738 1823V1830.4M781 1823V1830.4M824 1823V1830.4M867 1823V1830.4M910 1823V1830.4M952 1823V1830.4M995 1823V1830.4M1038 1823V1830.4M1081 1823V1830.4M1124 1823V1830.4" stroke="#000" stroke-width="2.0" fill="none"/><circle cx="695" cy="1708.69" r="4.2" fill="#52b5b8" stroke="#061616" stroke-width="1.2"/><circle cx="737.9" cy="1815.14" r="4.2" fill="#52b5b8" stroke="#061616" stroke-width="1.2"/><circle cx="780.8" cy="1690.44" r="4.2" fill="#52b5b8" stroke="#061616" stroke-width="1.2"/><circle cx="823.7" cy="1643.8" r="4.2" fill="#52b5b8" stroke="#061616" stroke-width="1.2"/><circle cx="866.6" cy="1705.9" r="4.2" fill="#52b5b8" stroke="#061616" stroke-width="1.2"/><circle cx="909.5" cy="1807.29" r="4.2" fill="#52b5b8" stroke="#061616" stroke-width="1.2"/><circle cx="952.4" cy="1683.85" r="4.2" fill="#52b5b8" stroke="#061616" stroke-width="1.2"/><circle cx="995.3" cy="1644.94" r="4.2" fill="#52b5b8" stroke="#061616" stroke-width="1.2"/><circle cx="1038.2" cy="1713.88" r="4.2" fill="#52b5b8" stroke="#061616" stroke-width="1.2"/><circle cx="1081.1" cy="1796.89" r="4.2" fill="#52b5b8" stroke="#061616" stroke-width="1.2"/><circle cx="1124" cy="1677.64" r="4.2" fill="#52b5b8" stroke="#061616" stroke-width="1.2"/><path d="M695 1823V1708.69M738 1823V1815.14M781 1823V1690.44M824 1823V1643.8M867 1823V1705.9M910 1823V1807.29M952 1823V1683.85M995 1823V1644.94M1038 1823V1713.88M1081 1823V1796.89M1124 1823V1677.64M695 1823H1124" stroke="#000" stroke-width="2.0" fill="none"/><polyline points="695,1708.69 737.9,1815.14 780.8,1690.44 823.7,1643.8 866.6,1705.9 909.5,1807.29 952.4,1683.85 995.3,1644.94 1038.2,1713.88 1081.1,1796.89 1124,1677.64" fill="none" stroke="#2b4894" stroke-width="2.2" stroke-dasharray="3.6 4.3"/><text transform="translate(670.5 1837.6) scale(0.9 1)" text-anchor="end" class="t">0</text><text transform="translate(669.3 1774.23) scale(0.9 1)" text-anchor="end" class="t">5</text><text transform="translate(670.5 1710.87) scale(0.9 1)" text-anchor="end" class="t">10</text><text transform="translate(669.3 1647.5) scale(0.9 1)" text-anchor="end" class="t">15</text><text transform="translate(695 1878.1) scale(0.9 1)" text-anchor="middle" class="t">0</text><text transform="translate(737.9 1878.1) scale(0.9 1)" text-anchor="middle" class="t">1</text><text transform="translate(780.8 1878.1) scale(0.9 1)" text-anchor="middle" class="t">2</text><text transform="translate(823.7 1878.1) scale(0.9 1)" text-anchor="middle" class="t">3</text><text transform="translate(866.6 1878.1) scale(0.9 1)" text-anchor="middle" class="t">4</text><text transform="translate(909.5 1878.1) scale(0.9 1)" text-anchor="middle" class="t">5</text><text transform="translate(952.4 1878.1) scale(0.9 1)" text-anchor="middle" class="t">6</text><text transform="translate(995.3 1878.1) scale(0.9 1)" text-anchor="middle" class="t">7</text><text transform="translate(1038.2 1878.1) scale(0.9 1)" text-anchor="middle" class="t">8</text><text transform="translate(1081.1 1878.1) scale(0.9 1)" text-anchor="middle" class="t">9</text><text transform="translate(1124 1878.1) scale(0.9 1)" text-anchor="middle" class="t">10</text><text x="908.6" y="1924.1" text-anchor="middle" class="k">k</text><text transform="translate(617.4 1722.3) rotate(-90)" text-anchor="middle" class="yl">Observation error</text><text x="784.09" y="1971.2" class="c">(n)</text><use href="#zeta" transform="translate(844.03 1971.2)"/><text x="861.33" y="1978.3" class="s">14</text><rect x="897.96" y="1953.6" width="22.4" height="1.8"/><rect x="897.96" y="1960.4" width="22.4" height="1.8"/><text x="932.18" y="1971.2" class="c">{4, 6}</text></g>
<g><path d="M1266.6 1823H1704 M1274 1830.4V1631.9M1266.6 1823H1274M1266.6 1785H1274M1266.6 1747H1274M1266.6 1709H1274M1266.6 1671H1274M1266.6 1633H1274M1274 1823V1830.4M1317 1823V1830.4M1360 1823V1830.4M1403 1823V1830.4M1446 1823V1830.4M1488 1823V1830.4M1531 1823V1830.4M1574 1823V1830.4M1617 1823V1830.4M1660 1823V1830.4M1703 1823V1830.4" stroke="#000" stroke-width="2.0" fill="none"/><circle cx="1274" cy="1690.88" r="4.2" fill="#52b5b8" stroke="#061616" stroke-width="1.2"/><circle cx="1316.9" cy="1817.49" r="4.2" fill="#52b5b8" stroke="#061616" stroke-width="1.2"/><circle cx="1359.8" cy="1683.09" r="4.2" fill="#52b5b8" stroke="#061616" stroke-width="1.2"/><circle cx="1402.7" cy="1633.28" r="4.2" fill="#52b5b8" stroke="#061616" stroke-width="1.2"/><circle cx="1445.6" cy="1698.67" r="4.2" fill="#52b5b8" stroke="#061616" stroke-width="1.2"/><circle cx="1488.5" cy="1806.27" r="4.2" fill="#52b5b8" stroke="#061616" stroke-width="1.2"/><circle cx="1531.4" cy="1675.67" r="4.2" fill="#52b5b8" stroke="#061616" stroke-width="1.2"/><circle cx="1574.3" cy="1634.23" r="4.2" fill="#52b5b8" stroke="#061616" stroke-width="1.2"/><circle cx="1617.2" cy="1707.42" r="4.2" fill="#52b5b8" stroke="#061616" stroke-width="1.2"/><circle cx="1660.1" cy="1795.44" r="4.2" fill="#52b5b8" stroke="#061616" stroke-width="1.2"/><circle cx="1703" cy="1669.02" r="4.2" fill="#52b5b8" stroke="#061616" stroke-width="1.2"/><path d="M1274 1823V1690.88M1317 1823V1817.49M1360 1823V1683.09M1403 1823V1633.28M1446 1823V1698.67M1488 1823V1806.27M1531 1823V1675.67M1574 1823V1634.23M1617 1823V1707.42M1660 1823V1795.44M1703 1823V1669.02M1274 1823H1703" stroke="#000" stroke-width="2.0" fill="none"/><polyline points="1274,1690.88 1316.9,1817.49 1359.8,1683.09 1402.7,1633.28 1445.6,1698.67 1488.5,1806.27 1531.4,1675.67 1574.3,1634.23 1617.2,1707.42 1660.1,1795.44 1703,1669.02" fill="none" stroke="#2b4894" stroke-width="2.2" stroke-dasharray="3.6 4.3"/><text transform="translate(1248.1 1837.6) scale(0.9 1)" text-anchor="end" class="t">0</text><text transform="translate(1248.1 1799.58) scale(0.9 1)" text-anchor="end" class="t">2</text><text transform="translate(1248.1 1761.56) scale(0.9 1)" text-anchor="end" class="t">4</text><text transform="translate(1248.1 1723.54) scale(0.9 1)" text-anchor="end" class="t">6</text><text transform="translate(1248.1 1685.52) scale(0.9 1)" text-anchor="end" class="t">8</text><text transform="translate(1248.1 1647.5) scale(0.9 1)" text-anchor="end" class="t">10</text><text transform="translate(1274 1878.1) scale(0.9 1)" text-anchor="middle" class="t">0</text><text transform="translate(1316.9 1878.1) scale(0.9 1)" text-anchor="middle" class="t">1</text><text transform="translate(1359.8 1878.1) scale(0.9 1)" text-anchor="middle" class="t">2</text><text transform="translate(1402.7 1878.1) scale(0.9 1)" text-anchor="middle" class="t">3</text><text transform="translate(1445.6 1878.1) scale(0.9 1)" text-anchor="middle" class="t">4</text><text transform="translate(1488.5 1878.1) scale(0.9 1)" text-anchor="middle" class="t">5</text><text transform="translate(1531.4 1878.1) scale(0.9 1)" text-anchor="middle" class="t">6</text><text transform="translate(1574.3 1878.1) scale(0.9 1)" text-anchor="middle" class="t">7</text><text transform="translate(1617.2 1878.1) scale(0.9 1)" text-anchor="middle" class="t">8</text><text transform="translate(1660.1 1878.1) scale(0.9 1)" text-anchor="middle" class="t">9</text><text transform="translate(1703 1878.1) scale(0.9 1)" text-anchor="middle" class="t">10</text><text x="1487.6" y="1924.1" text-anchor="middle" class="k">k</text><text transform="translate(1196.4 1722.3) rotate(-90)" text-anchor="middle" class="yl">Observation error</text><text x="1363.36" y="1971.2" class="c">(o)</text><use href="#zeta" transform="translate(1423.31 1971.2)"/><text x="1440.61" y="1978.3" class="s">15</text><rect x="1476.69" y="1953.6" width="22.4" height="1.8"/><rect x="1476.69" y="1960.4" width="22.4" height="1.8"/><text x="1510.91" y="1971.2" class="c">{5, 6}</text></g>
</svg>
</body></html>
